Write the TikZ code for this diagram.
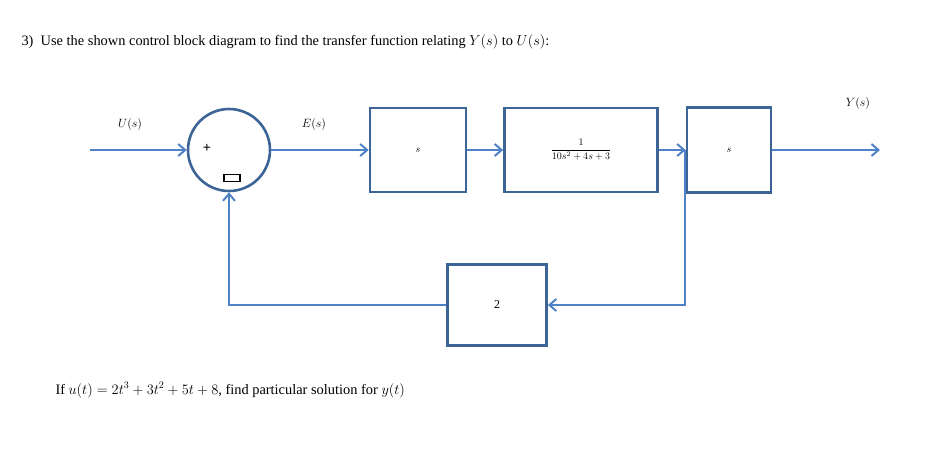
\documentclass[tikz,border=0pt]{standalone}
\usepackage{amsmath}
\usepackage{fontspec}
\setmainfont{Liberation Serif}
\usetikzlibrary{arrows.meta}
\definecolor{ln}{RGB}{79,129,199}
\definecolor{bx}{RGB}{60,100,150}
\begin{document}
\begin{tikzpicture}[x=1pt,y=-1pt,
  wire/.style={ln,line width=2.6pt,-{Straight Barb[length=7pt,width=12pt,line width=2pt]}},
  plain/.style={ln,line width=2.6pt},
  blk/.style={draw=bx,line width=2.6pt,fill=white,inner sep=0pt},
  lbl/.style={font=\large}]
\useasboundingbox (0,0) rectangle (928,448);
\node[anchor=west,font=\Large] (title) at (18,42) {3)\ \ Use the shown control block diagram to find the transfer function relating $Y(s)$ to $U(s)$:};
\coordinate (in) at (90,150);
\node[draw=bx,line width=2.6pt,circle,minimum size=82pt] (sum) at (229,150) {};
\node[font=\Large\bfseries] (plus) at (207,148) {\textbf{+}};
\node[draw=black,line width=1.8pt,minimum width=16pt,minimum height=7pt,inner sep=0pt] (minus) at (232,178) {};
\node[blk,minimum width=96pt,minimum height=84pt] (g1) at (418,150) {$s$};
\node[blk,minimum width=153pt,minimum height=84pt] (g2) at (581,150) {$\dfrac{1}{10s^2+4s+3}$};
\node[blk,minimum width=84pt,minimum height=85pt] (g3) at (729,150) {$s$};
\node[blk,minimum width=99pt,minimum height=81pt] (h) at (497,305) {\large 2};
\coordinate (out) at (880,150);
\coordinate (pick) at (685,150);
\node[lbl] (ul) at (130,124) {$U(s)$};
\node[lbl] (el) at (314,124) {$E(s)$};
\node[lbl] (yl) at (858,103) {$Y(s)$};
\draw[wire] (in) -- (sum);
\draw[wire] (sum) -- (g1);
\draw[wire] (g1) -- (g2);
\draw[wire] (g2) -- (g3);
\draw[wire] (g3) -- (out);
\draw[wire] (pick) |- (h);
\draw[wire] (h.west) -| (sum.south);
\node[anchor=west,font=\Large] (q) at (52,390) {If $u(t)=2t^3+3t^2+5t+8$, find particular solution for $y(t)$};
\end{tikzpicture}
\end{document}
